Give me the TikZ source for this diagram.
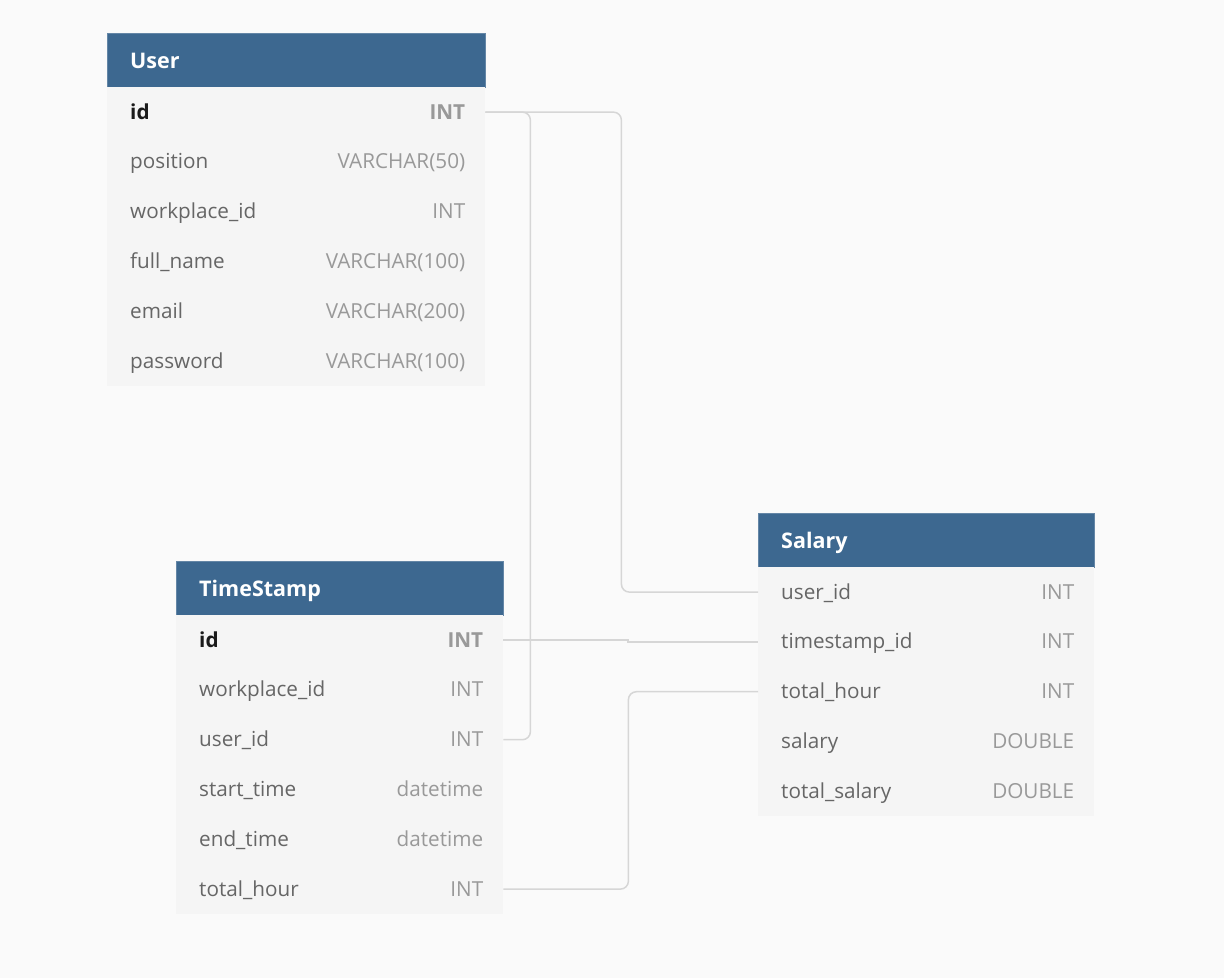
\documentclass[tikz,border=0pt]{standalone}
\usepackage{fontspec}
\setmainfont{Open Sans}
\usetikzlibrary{calc}
\definecolor{bgc}{HTML}{FAFAFA}
\definecolor{hdrc}{HTML}{3D6890}
\definecolor{bodyc}{HTML}{F5F5F5}
\definecolor{linec}{HTML}{D6D6D6}
\definecolor{namec}{HTML}{666666}
\definecolor{typec}{HTML}{999999}
\definecolor{keyc}{HTML}{1A1A1A}
\tikzset{
  hdrbox/.style={fill=hdrc, draw=hdrc!80!white, line width=0.5pt, inner sep=0pt, anchor=north west, minimum height=54pt},
  bodybox/.style={fill=bodyc, draw=none, inner sep=0pt, anchor=north west},
  rowbox/.style={draw=none, fill=none, inner sep=0pt, anchor=north west, minimum height=49.8pt},
  titletext/.style={text=white, font=\fontsize{21.5}{25}\selectfont\bfseries, anchor=base west, inner sep=0pt},
  plainname/.style={text=namec, font=\fontsize{20.7}{24}\selectfont, anchor=base west, inner sep=0pt},
  keyname/.style={text=keyc, font=\fontsize{20.7}{24}\selectfont\bfseries, anchor=base west, inner sep=0pt},
  plaintype/.style={text=typec, font=\fontsize{20.7}{24}\selectfont, anchor=base east, inner sep=0pt},
  keytype/.style={text=typec, font=\fontsize{20.7}{24}\selectfont\bfseries, anchor=base east, inner sep=0pt},
  conn/.style={draw=linec, line width=1.5pt, rounded corners=8pt},
}
% \ertable{id}{x}{y}{width}{title}{rows}{nrows}
\newcommand\ertable[7]{%
  \node[hdrbox, minimum width=#4pt] (#1) at (#2,#3) {};
  \node[titletext] (#1-title) at ($(#1.west)+(23,8)$) {#5};
  \node[bodybox, minimum width=#4pt, minimum height=#7*49.8pt] (#1-body) at (#2,#3+54) {};
  \foreach \n/\t/\k [count=\i] in {#6}{%
    \node[rowbox, minimum width=#4pt] (#1-\i) at (#2,#3+54+49.8*\i-49.8) {};
    \node[\k name] (#1-\i-n) at ($(#1-\i.west)+(23,7)$) {\n};
    \node[\k type] (#1-\i-t) at ($(#1-\i.east)+(-20,7)$) {\t};
  }%
}
\begin{document}
\begin{tikzpicture}[x=1pt,y=-1pt]
\fill[bgc] (0,0) rectangle (1224,978);
\useasboundingbox (0,0) rectangle (1224,978);

\ertable{user}{107}{33}{378}{User}{id/INT/key, position/VARCHAR(50)/plain, workplace\_id/INT/plain, full\_name/VARCHAR(100)/plain, email/VARCHAR(200)/plain, password/VARCHAR(100)/plain}{6}

\ertable{ts}{176}{561}{327}{TimeStamp}{id/INT/key, workplace\_id/INT/plain, user\_id/INT/plain, start\_time/datetime/plain, end\_time/datetime/plain, total\_hour/INT/plain}{6}

\ertable{sal}{758}{513}{336}{Salary}{user\_id/INT/plain, timestamp\_id/INT/plain, total\_hour/INT/plain, salary/DOUBLE/plain, total\_salary/DOUBLE/plain}{5}

\coordinate (mid) at (628,0);
\draw[conn] (user-1.east) -- ++(45,0) |- (ts-3.east);
\draw[conn] (user-1.east) -- ++(136,0) |- (sal-1.west);
\draw[conn, rounded corners=0pt] (ts-1.east) -- (ts-1.east -| mid) -- (sal-2.west -| mid) -- (sal-2.west);
\draw[conn] (ts-6.east) -- ++(125,0) |- (sal-3.west);
\end{tikzpicture}
\end{document}
